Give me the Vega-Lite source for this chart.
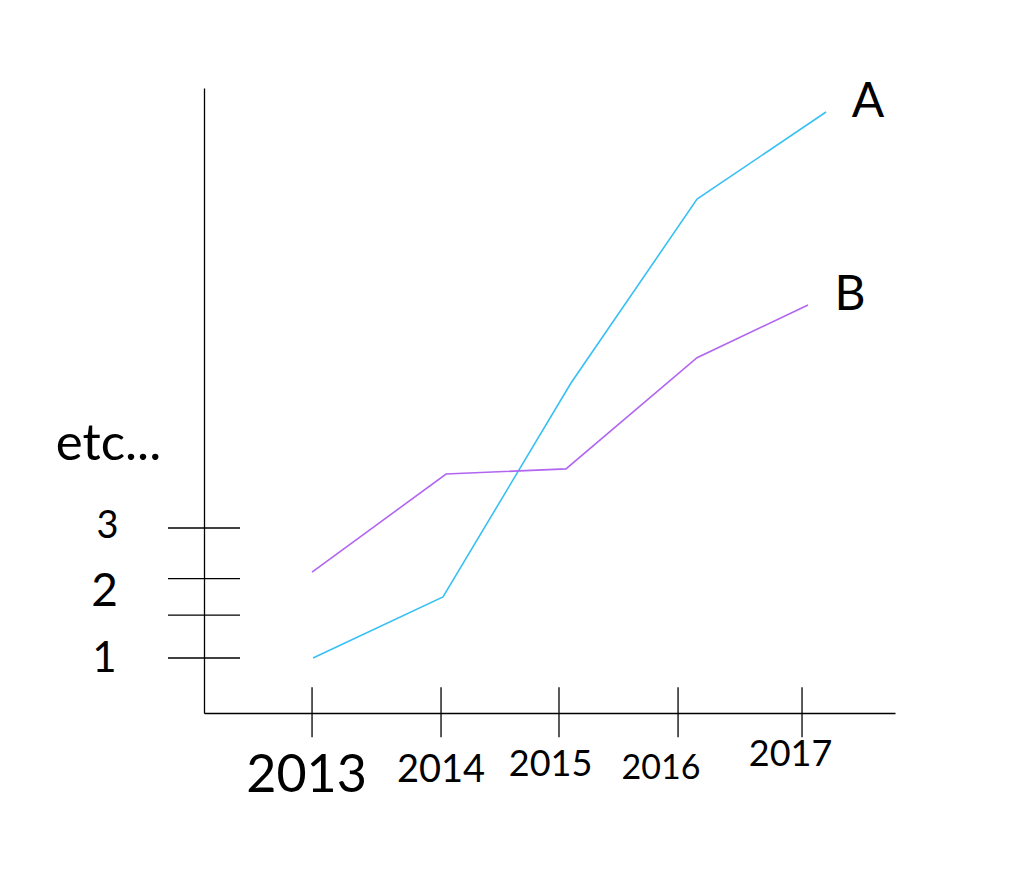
{
  "$schema": "https://vega.github.io/schema/vega-lite/v6.json",
  "description": "Hand-drawn sketch of two series A and B, 2013-2017",
  "background": "white",
  "autosize": {"type": "none"},
  "padding": {"left": 204, "top": 88, "right": 129, "bottom": 182},
  "width": 691,
  "height": 625,
  "datasets": {
    "series": [
      {"series": "A", "year": 2013.008, "value": 1.0},
      {"series": "A", "year": 2014.069, "value": 1.94},
      {"series": "A", "year": 2015.114, "value": 5.23},
      {"series": "A", "year": 2016.143, "value": 8.06},
      {"series": "A", "year": 2017.196, "value": 9.4},
      {"series": "B", "year": 2013.0, "value": 2.32},
      {"series": "B", "year": 2014.094, "value": 3.83},
      {"series": "B", "year": 2015.073, "value": 3.91},
      {"series": "B", "year": 2016.143, "value": 5.62},
      {"series": "B", "year": 2017.049, "value": 6.43}
    ],
    "xticks": [
      {"year": 2013.0},
      {"year": 2014.053},
      {"year": 2015.016},
      {"year": 2015.988},
      {"year": 2017.0}
    ],
    "yticks": [
      {"value": 1.0},
      {"value": 1.66},
      {"value": 2.22},
      {"value": 3.0}
    ]
  },
  "layer": [
    {
      "data": {"name": "series"},
      "mark": {"type": "line", "strokeWidth": 1.6},
      "encoding": {
        "x": {
          "field": "year",
          "type": "quantitative",
          "scale": {"domain": [2012.118, 2017.759], "nice": false, "zero": false},
          "axis": {
            "title": null,
            "grid": false,
            "ticks": false,
            "domainColor": "black",
            "domainWidth": 1.3,
            "values": [2013, 2014, 2015, 2016, 2017],
            "format": "d",
            "labelFont": "Lato",
            "labelColor": "black",
            "labelBaseline": "middle",
            "labelAlign": "center",
            "labelPadding": {"expr": "datum.value == 2013 ? 62 : datum.value == 2014 ? 57 : datum.value == 2015 ? 51 : datum.value == 2016 ? 55 : 41"},
            "labelFontSize": {"expr": "datum.value == 2013 ? 52 : datum.value == 2014 ? 38 : datum.value == 2016 ? 34 : 36"},
            "labelOffset": {"expr": "datum.value == 2013 ? -6 : datum.value == 2014 ? 6 : datum.value == 2015 ? -7 : datum.value == 2016 ? -19 : -12"},
            "labelFlush": false,
            "labelOverlap": false
          }
        },
        "y": {
          "field": "value",
          "type": "quantitative",
          "scale": {"domain": [0.154, 9.769], "nice": false, "zero": false},
          "axis": {
            "title": null,
            "grid": false,
            "ticks": false,
            "domainColor": "black",
            "domainWidth": 1.3,
            "values": [1, 2.03, 3.03, 4.28],
            "labelExpr": "datum.value < 1.5 ? '1' : datum.value < 2.5 ? '2' : datum.value < 3.5 ? '3' : 'etc...'",
            "labelFont": "Lato",
            "labelColor": "black",
            "labelBaseline": "middle",
            "labelAlign": "center",
            "labelPadding": {"expr": "datum.value > 4 ? 96 : datum.value > 2.5 ? 97 : 100"},
            "labelFontSize": {"expr": "datum.value > 4 ? 51 : datum.value > 2.5 ? 38 : datum.value > 1.5 ? 46 : 42"},
            "labelFlush": false,
            "labelOverlap": false
          }
        },
        "color": {
          "field": "series",
          "type": "nominal",
          "scale": {"domain": ["A", "B"], "range": ["#38c0f5", "#b266f0"]},
          "legend": null
        }
      }
    },
    {
      "data": {"name": "series"},
      "transform": [{"filter": "datum.year > 2017"}],
      "mark": {
        "type": "text",
        "font": "Lato",
        "fontSize": 48,
        "align": "center",
        "baseline": "middle",
        "dx": 42,
        "dy": -9,
        "color": "black"
      },
      "encoding": {
        "x": {"field": "year", "type": "quantitative"},
        "y": {"field": "value", "type": "quantitative"},
        "text": {"field": "series"}
      }
    },
    {
      "data": {"name": "xticks"},
      "mark": {"type": "rule", "color": "black", "strokeWidth": 1.3},
      "encoding": {
        "x": {"field": "year", "type": "quantitative"},
        "y": {"datum": 0.55},
        "y2": {"datum": -0.22}
      }
    },
    {
      "data": {"name": "yticks"},
      "mark": {"type": "rule", "color": "black", "strokeWidth": 1.3},
      "encoding": {
        "y": {"field": "value", "type": "quantitative"},
        "x": {"datum": 2011.824},
        "x2": {"datum": 2012.412}
      }
    }
  ],
  "config": {
    "view": {"stroke": null}
  }
}
